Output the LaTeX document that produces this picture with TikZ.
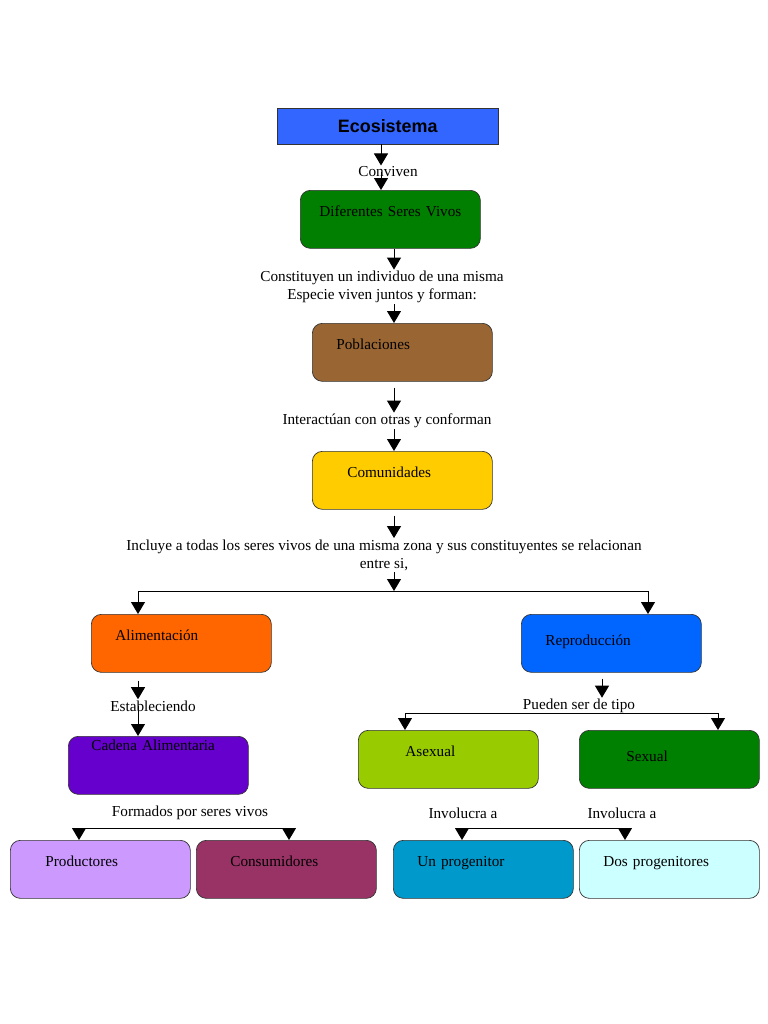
\documentclass[tikz,border=0pt]{standalone}
\usepackage{fontspec}
\usepackage{tikz}
\usepackage{xcolor}
\usetikzlibrary{arrows.meta,calc}
\setmainfont{Liberation Serif}
\newfontfamily\headfont{Liberation Sans}

\definecolor{ecoblue}{HTML}{3366FF}
\definecolor{dsvgreen}{HTML}{007F00}
\definecolor{pobbrown}{HTML}{996633}
\definecolor{comyellow}{HTML}{FFCC00}
\definecolor{aliorange}{HTML}{FF6600}
\definecolor{repblue}{HTML}{0066FF}
\definecolor{cadpurple}{HTML}{6600CC}
\definecolor{asegreen}{HTML}{99CC00}
\definecolor{sexgreen}{HTML}{008000}
\definecolor{prodlila}{HTML}{CC99FF}
\definecolor{consred}{HTML}{993366}
\definecolor{unpblue}{HTML}{0099CC}
\definecolor{dospcyan}{HTML}{CCFFFF}

\begin{document}
\begin{tikzpicture}[x=0.03cm, y=-0.03cm, >={Triangle[length=0.36cm,width=0.42cm]},
    every node/.style={font=\fontsize{13}{15.5}\selectfont},
    box/.style={draw=black!80, line width=0.6pt, rounded corners=0.3cm, anchor=north west,
        minimum width=5.4cm, minimum height=1.74cm, inner sep=0pt, text width=5.4cm,
        align=left, text height=0.78cm, text depth=0.96cm},
    low/.style={text height=0.93cm, text depth=0.81cm},
    high/.style={text height=0.42cm, text depth=1.32cm},
    lbl/.style={inner sep=1pt, align=center},
    arr/.style={->, line width=0.8pt},
    both/.style={<->, line width=0.8pt}]
                \useasboundingbox (0,0) rectangle (768,1024);

                % boxes
                \node[draw=black!80, fill=ecoblue, anchor=north west, minimum width=6.63cm,
                    minimum height=1.08cm, font=\headfont\bfseries\fontsize{15.3}{18}\selectfont] (eco) at (277,108) {Ecosistema};
                \node[box, fill=dsvgreen, align=center] (dsv) at (300,190) {Diferentes Seres Vivos};
                \node[box, fill=pobbrown] (pob) at (312,323) {\hspace*{0.72cm}Poblaciones};
                \node[box, fill=comyellow] (com) at (312,451) {\hspace*{1.05cm}Comunidades};
                \node[box, fill=aliorange] (ali) at (91,614) {\hspace*{0.72cm}Alimentación};
                \node[box, low, fill=repblue] (rep) at (521,614) {\hspace*{0.72cm}Reproducción};
                \node[box, high, fill=cadpurple] (cad) at (68,736) {\hspace*{0.69cm}Cadena Alimentaria};
                \node[box, fill=asegreen] (ase) at (358,730) {\hspace*{1.41cm}Asexual};
                \node[box, low, fill=sexgreen] (sex) at (579,730) {\hspace*{1.41cm}Sexual};
                \node[box, fill=prodlila] (prod) at (10,840) {\hspace*{1.05cm}Productores};
                \node[box, fill=consred] (cons) at (196,840) {\hspace*{1.02cm}Consumidores};
                \node[box, fill=unpblue] (unp) at (393,840) {\hspace*{0.72cm}Un progenitor};
                \node[box, fill=dospcyan] (dosp) at (579,840) {\hspace*{0.72cm}Dos progenitores};

                % labels
                \node[lbl] (lconv) at (388,172) {Conviven};
                \node[lbl] (lconst) at (382,287) {Constituyen un individuo de una misma\\Especie viven juntos y forman:};
                \node[lbl] (linter) at (387,421) {Interactúan con otras y conforman};
                \node[lbl] (lincl) at (384,555) {Incluye a todas los seres vivos de una misma zona y sus constituyentes se relacionan\\entre si,};
                \node[lbl] (lestab) at (153,706) {Estableciendo};
                \node[lbl] (lpued) at (579,706) {Pueden ser de tipo};
                \node[lbl] (lform) at (190,813) {Formados por seres vivos};
                \node[lbl] (linv1) at (463,813) {Involucra a};
                \node[lbl] (linv2) at (622,813) {Involucra a};

                \coordinate (sa) at (381,0);
                \coordinate (sp) at (394,0);
                \coordinate (sl) at (138,0);
                \coordinate (sr) at (648,0);
                \coordinate (sq) at (602,0);
                \coordinate (j1) at (394,591);
                \coordinate (j2) at (405,713);
                \coordinate (j3) at (718,713);
                \coordinate (j4) at (79,828);
                \coordinate (j5) at (289,828);
                \coordinate (j6) at (462,828);
                \coordinate (j7) at (625,828);

                % connectors
                \draw[arr] (eco.south -| sa) -- (lconv.north -| sa);
                \draw[arr] (lconv.center -| sa) -- (dsv.north -| sa);
                \draw[arr] (dsv.south -| sp) -- (lconst.north -| sp);
                \draw[arr] (lconst.south -| sp) -- (pob.north -| sp);
                \draw[arr, shorten <=0.18cm] (pob.south -| sp) -- (linter.north -| sp);
                \draw[arr] (linter.south -| sp) -- (com.north -| sp);
                \draw[arr, shorten <=0.18cm] (com.south -| sp) -- (lincl.north -| sp);
                \draw[arr] (lincl.south -| sp) -- (j1);
                \draw[arr] (j1) -| (ali.north -| sl);
                \draw[arr] (j1) -| (rep.north -| sr);
                \draw[arr, shorten <=0.24cm] (ali.south -| sl) -- (lestab.north -| sl);
                \draw[arr] (lestab.center -| sl) -- (cad.north -| sl);
                \draw[arr, shorten <=0.18cm] (rep.south -| sq) -- (lpued.north -| sq);
                \draw[both] (ase.north -| j2) -- (j2) -- (j3) -- (sex.north -| j3);
                \draw[both] (prod.north -| j4) -- (j4) -- (j5) -- (cons.north -| j5);
                \draw[both] (unp.north -| j6) -- (j6) -- (j7) -- (dosp.north -| j7);
\end{tikzpicture}
\end{document}
